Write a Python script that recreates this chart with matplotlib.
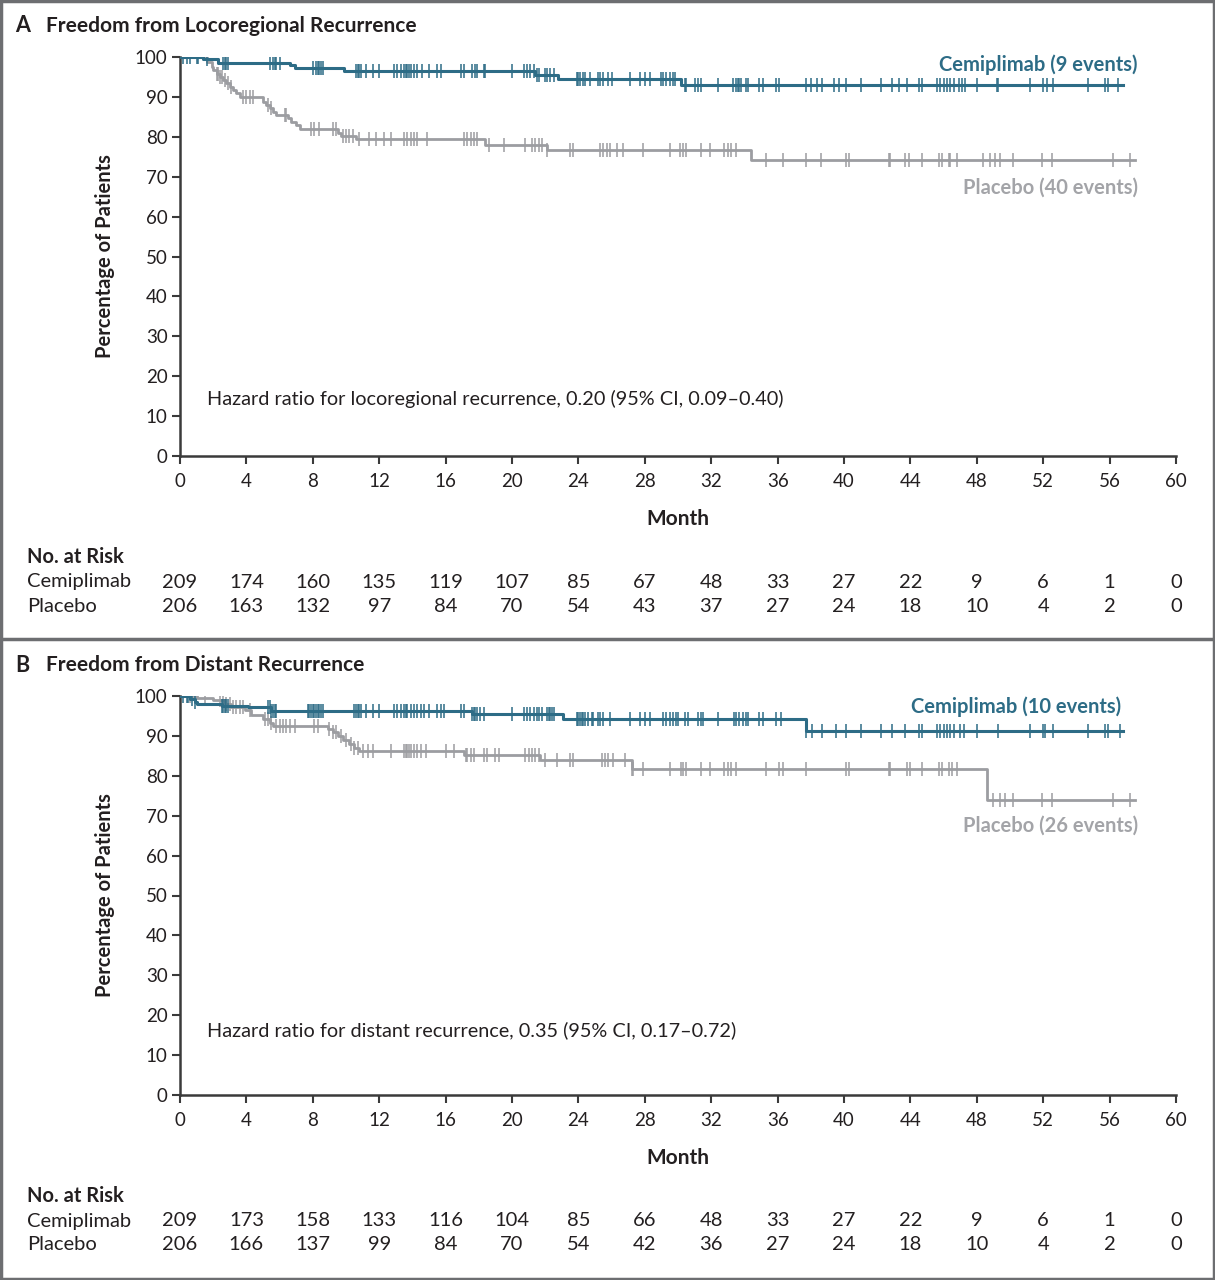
import numpy as np
import matplotlib
matplotlib.use("Agg")
import matplotlib.pyplot as plt
import matplotlib.transforms as mtransforms
from matplotlib.patches import Rectangle
from matplotlib.lines import Line2D

plt.rcParams['font.family'] = ['Lato', 'DejaVu Sans']

TEAL = '#2d6c86'
GRAY = '#9c9da1'
TXT = '#231f20'
AXC = '#3a3a3a'

months = [0, 4, 8, 12, 16, 20, 24, 28, 32, 36, 40, 44, 48, 52, 56, 60]

# ---- Panel A: locoregional recurrence ----
a_cemi_evt_t = [1.4, 2.3, 6.6, 6.9, 9.9, 21.4, 22.8, 30.2]
a_cemi_evt_s = [99.4, 98.6, 97.9, 97.2, 96.6, 95.4, 94.6, 92.9]
a_cemi_cens = [0.2, 0.4, 0.6, 1.0, 1.1, 1.6, 2.6, 2.7, 2.8, 2.9, 5.4, 5.6, 5.7, 5.8, 6.0,
               8.0, 8.2, 8.3, 8.4, 8.5, 8.6, 10.6, 10.7, 10.8, 10.9, 11.2, 11.6, 12.0,
               12.9, 13.1, 13.3, 13.5, 13.6, 13.7, 13.8, 13.9, 14.1, 14.3, 14.6, 15.0,
               15.5, 15.7, 16.9, 17.1, 17.6, 17.8, 17.9, 18.3, 18.4, 20.0, 20.7, 20.9,
               21.1, 21.3, 21.5, 21.6, 22.0, 22.1, 22.3, 22.5, 23.9, 24.0, 24.1, 24.3,
               24.4, 24.7, 25.2, 25.3, 25.5, 25.8, 26.0, 27.1, 27.7, 28.0, 28.3, 29.0,
               29.1, 29.3, 29.5, 29.7, 29.8, 30.4, 30.5, 31.0, 31.2, 31.4, 32.4, 33.3,
               33.5, 33.6, 33.7, 33.8, 34.1, 34.2, 34.9, 35.1, 35.9, 36.1, 37.7, 38.0,
               38.4, 38.7, 39.4, 39.7, 40.1, 41.0, 42.2, 42.9, 43.3, 43.8, 44.5, 44.7,
               45.6, 45.8, 46.0, 46.2, 46.4, 46.6, 46.9, 47.1, 47.3, 48.0, 49.2, 49.3,
               51.2, 52.0, 52.2, 52.6, 54.7, 55.7, 55.9, 56.5]
a_cemi_end = 56.8

a_plac_evt_t = [1.6, 1.9, 2.0, 2.2, 2.4, 2.6, 2.8, 3.0, 3.2, 3.4, 3.6, 5.0, 5.2, 5.4,
                5.6, 5.8, 6.5, 6.7, 7.0, 7.2, 9.5, 9.7, 10.6, 18.4, 22.1, 34.4]
a_plac_evt_s = [98.7, 97.5, 96.7, 95.8, 95.0, 94.2, 93.4, 92.5, 91.7, 90.9, 90.0, 88.8,
                87.9, 87.1, 86.3, 85.4, 84.6, 83.7, 82.9, 82.0, 81.0, 80.2, 79.4, 78.0,
                76.8, 74.1]
a_plac_cens = [2.2, 2.3, 2.4, 2.5, 2.7, 2.9, 3.1, 3.8, 4.0, 4.2, 4.4, 5.3, 5.5, 6.3, 6.4,
               7.9, 8.1, 8.4, 9.2, 9.4, 9.8, 10.0, 10.2, 10.4, 10.8, 11.4, 11.8, 12.3,
               12.7, 13.5, 13.7, 13.9, 14.1, 14.3, 14.9, 17.1, 17.3, 17.5, 17.7, 17.9,
               18.6, 19.5, 20.8, 21.2, 21.4, 21.6, 21.8, 22.1, 23.5, 23.7, 25.3, 25.5,
               25.7, 25.9, 26.3, 26.7, 27.9, 29.5, 30.1, 30.3, 30.5, 31.4, 31.9, 32.8,
               33.0, 33.2, 33.5, 35.3, 36.3, 37.7, 38.6, 40.1, 40.3, 42.7, 42.8, 43.7,
               43.9, 44.7, 45.7, 45.9, 46.3, 46.4, 46.8, 48.4, 48.8, 49.1, 49.4, 50.2,
               51.9, 52.5, 56.2, 57.2]
a_plac_end = 57.5

a_risk_cemi = [209, 174, 160, 135, 119, 107, 85, 67, 48, 33, 27, 22, 9, 6, 1, 0]
a_risk_plac = [206, 163, 132, 97, 84, 70, 54, 43, 37, 27, 24, 18, 10, 4, 2, 0]

# ---- Panel B: distant recurrence ----
b_cemi_evt_t = [0.6, 0.9, 1.0, 2.5, 4.1, 5.5, 17.6, 23.1, 37.7]
b_cemi_evt_s = [99.3, 98.6, 98.1, 97.6, 97.2, 96.3, 95.5, 94.3, 91.2]
b_cemi_cens = [0.2, 0.4, 0.5, 0.7, 0.9, 2.5, 2.6, 2.7, 2.8, 2.9, 5.3, 5.4, 5.5, 5.6, 5.7,
               5.8, 7.7, 7.8, 7.9, 8.0, 8.1, 8.2, 8.3, 8.4, 8.5, 8.6, 10.5, 10.6, 10.7,
               10.8, 10.9, 11.2, 11.6, 12.0, 12.9, 13.1, 13.3, 13.5, 13.6, 13.7, 13.9,
               14.1, 14.3, 14.5, 14.7, 15.0, 15.5, 15.7, 15.9, 16.9, 17.1, 17.6, 17.7,
               17.8, 17.9, 18.1, 18.3, 20.0, 20.7, 20.9, 21.1, 21.3, 21.5, 21.6, 21.8,
               22.1, 22.2, 22.3, 22.4, 22.5, 23.9, 24.0, 24.1, 24.2, 24.3, 24.4, 24.6,
               24.8, 24.9, 25.2, 25.3, 25.5, 25.9, 27.1, 27.7, 28.0, 28.3, 29.1, 29.3,
               29.5, 29.7, 29.9, 30.0, 30.4, 30.6, 31.2, 31.4, 31.5, 32.4, 33.4, 33.5,
               33.7, 33.9, 34.1, 34.2, 34.9, 35.1, 35.9, 36.2, 37.7, 38.1, 38.7, 39.5,
               40.1, 41.0, 42.2, 42.9, 43.7, 44.5, 44.7, 45.6, 45.8, 46.0, 46.2, 46.4,
               46.6, 47.0, 47.2, 48.0, 49.3, 51.2, 52.0, 52.1, 52.6, 54.7, 55.7, 55.9,
               56.6]
b_cemi_end = 56.8

b_plac_evt_t = [1.0, 2.0, 2.7, 3.1, 3.9, 4.3, 5.0, 5.4, 5.6, 8.9, 9.2, 9.5, 9.8, 10.2,
                10.5, 10.8, 17.1, 21.7, 27.2, 48.6]
b_plac_evt_s = [99.5, 98.9, 98.1, 97.2, 96.4, 95.2, 94.3, 93.3, 92.6, 91.8, 90.9, 89.9,
                88.9, 87.9, 87.0, 86.1, 85.1, 83.9, 81.8, 73.9]
b_plac_cens = [0.6, 1.5, 2.4, 2.6, 2.8, 3.0, 3.2, 3.4, 3.6, 3.8, 4.2, 5.1, 5.3, 5.5, 5.8,
               6.0, 6.2, 6.4, 6.6, 6.9, 8.1, 8.3, 9.0, 9.2, 9.4, 9.7, 10.0, 10.3, 10.5,
               10.7, 11.0, 11.3, 11.6, 12.7, 13.5, 13.6, 13.7, 13.8, 13.9, 14.1, 14.3,
               14.5, 14.8, 16.0, 16.5, 17.2, 17.3, 17.5, 17.7, 18.3, 18.5, 19.0, 19.2,
               20.8, 21.0, 21.2, 21.4, 21.6, 22.0, 22.7, 23.5, 23.7, 25.4, 25.6, 25.8,
               26.1, 26.8, 27.2, 27.3, 27.9, 29.5, 30.2, 30.3, 30.5, 31.4, 31.9, 32.8,
               33.0, 33.2, 33.5, 35.3, 36.1, 36.3, 37.7, 40.1, 40.3, 42.7, 42.8, 43.8,
               44.0, 44.7, 45.7, 45.9, 46.3, 46.5, 46.8, 49.0, 49.4, 49.7, 50.2, 51.9,
               52.5, 56.2, 57.2]
b_plac_end = 57.5

b_risk_cemi = [209, 173, 158, 133, 116, 104, 85, 66, 48, 33, 27, 22, 9, 6, 1, 0]
b_risk_plac = [206, 166, 137, 99, 84, 70, 54, 42, 36, 27, 24, 18, 10, 4, 2, 0]

W, H = 1215, 1280
fig = plt.figure(figsize=(W / 100, H / 100), dpi=100)


def km(ax, evt_t, evt_s, cens, t_end, color, lw):
    t = np.concatenate([[0], evt_t, [t_end]])
    s = np.concatenate([[100], evt_s, [evt_s[-1]]])
    ax.step(t, s, where='post', color=color, lw=lw, zorder=3)
    cens = np.asarray(cens)
    idx = np.searchsorted(np.asarray(evt_t), cens, side='right')
    s_all = np.concatenate([[100], evt_s])
    ax.plot(cens, s_all[idx], ls='none', marker='|', ms=10, mew=1.1,
            color=color, zorder=3)


def panel(top, letter, title, cemi, plac, hr_text, hr_y, cemi_lbl, plac_lbl, risk_c, risk_p):
    ax = fig.add_axes([180 / W, 1 - (top + 399) / H, 996 / W, 399 / H])
    km(ax, *plac, GRAY, 2.0)
    km(ax, *cemi, TEAL, 2.2)
    ax.set_xlim(0, 60)
    ax.set_ylim(0, 100)
    for side in ['top', 'right']:
        ax.spines[side].set_visible(False)
    for side in ['left', 'bottom']:
        ax.spines[side].set_linewidth(1.8)
        ax.spines[side].set_color(AXC)
    ax.set_xticks(months)
    ax.set_yticks(range(0, 101, 10))
    ax.tick_params(direction='out', length=6, width=1.5, color=AXC,
                   labelsize=13.5, labelcolor=TXT, pad=3)
    ax.tick_params(axis='x', pad=6)
    ax.set_xlabel('Month', fontsize=15, fontweight='bold', color=TXT, labelpad=14)
    ax.set_ylabel('Percentage of Patients', fontsize=14.5, fontweight='bold',
                  color=TXT, labelpad=14)
    ax.patch.set_alpha(0)
    ax.text(1.6, hr_y, hr_text, fontsize=14.3, color=TXT, va='center')
    ax.text(cemi_lbl[0], cemi_lbl[1], cemi_lbl[2], fontsize=14.5, fontweight='bold',
            color=TEAL, ha='right', va='center')
    ax.text(plac_lbl[0], plac_lbl[1], plac_lbl[2], fontsize=14.5, fontweight='bold',
            color='#a3a4a8', ha='right', va='center')

    ty = 1 - (top - 31) / H
    fig.text(15 / W, ty, letter, fontsize=15.5, fontweight='bold', color=TXT, va='center')
    fig.text(46 / W, ty, title, fontsize=15, fontweight='bold', color=TXT, va='center')

    trans = mtransforms.blended_transform_factory(ax.transData, fig.transFigure)
    fig.text(27 / W, 1 - (top + 500) / H, 'No. at Risk', fontsize=14.5,
             fontweight='bold', color=TXT, va='center')
    for row_y, name, vals in [(top + 525, 'Cemiplimab', risk_c),
                              (top + 549, 'Placebo', risk_p)]:
        yy = 1 - row_y / H
        fig.text(27 / W, yy, name, fontsize=14.5, color=TXT, va='center')
        for m, v in zip(months, vals):
            ax.text(m, yy, str(v), transform=trans, fontsize=14.5, color=TXT,
                    ha='center', va='center')
    return ax


panel(57, 'A', 'Freedom from Locoregional Recurrence',
      (a_cemi_evt_t, a_cemi_evt_s, a_cemi_cens, a_cemi_end),
      (a_plac_evt_t, a_plac_evt_s, a_plac_cens, a_plac_end),
      'Hazard ratio for locoregional recurrence, 0.20 (95% CI, 0.09\u20130.40)', 14.4,
      (57.7, 98.0, 'Cemiplimab (9 events)'), (57.7, 67.3, 'Placebo (40 events)'),
      a_risk_cemi, a_risk_plac)

panel(696, 'B', 'Freedom from Distant Recurrence',
      (b_cemi_evt_t, b_cemi_evt_s, b_cemi_cens, b_cemi_end),
      (b_plac_evt_t, b_plac_evt_s, b_plac_cens, b_plac_end),
      'Hazard ratio for distant recurrence, 0.35 (95% CI, 0.17\u20130.72)', 16.3,
      (56.7, 97.2, 'Cemiplimab (10 events)'), (57.7, 67.6, 'Placebo (26 events)'),
      b_risk_cemi, b_risk_plac)

# outer frame and divider
fig.patches.append(Rectangle((0.001, 0.001), 0.998, 0.998, transform=fig.transFigure,
                             fill=False, edgecolor='#6d6e71', lw=2.5))
fig.lines.append(Line2D([0, 1], [1 - 639 / H, 1 - 639 / H], transform=fig.transFigure,
                        color='#6d6e71', lw=2.5))

fig.savefig('out.png', dpi=100)
